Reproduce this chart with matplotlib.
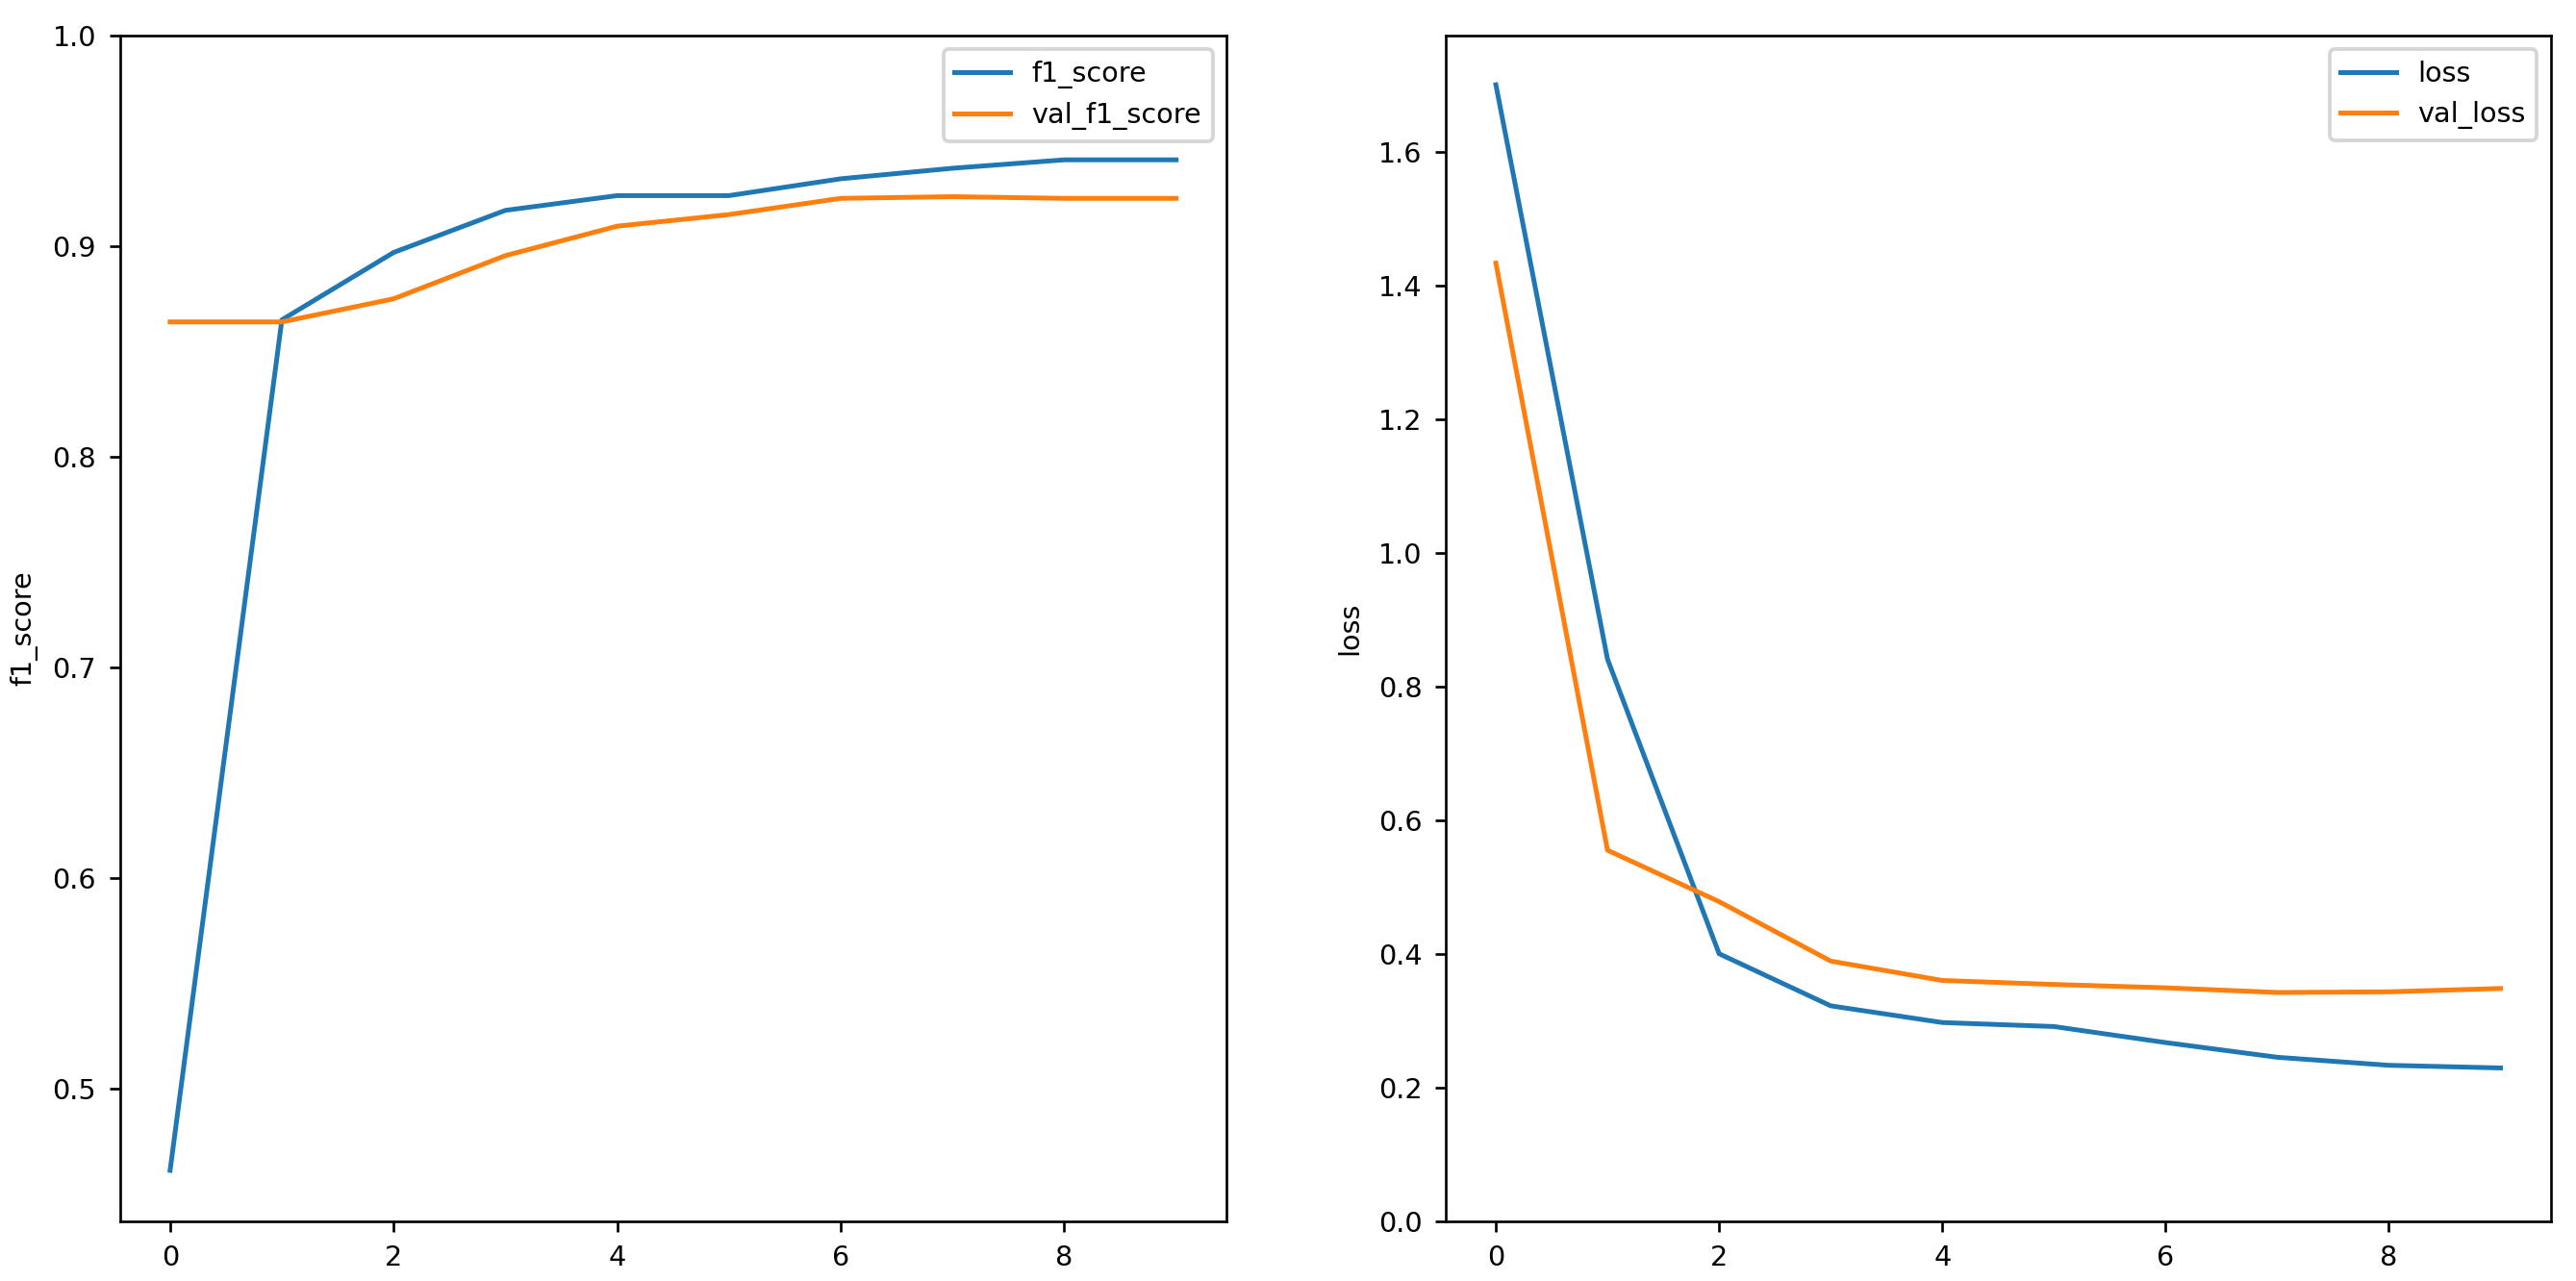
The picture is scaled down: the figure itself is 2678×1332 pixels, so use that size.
import matplotlib
matplotlib.use("Agg")
import matplotlib.pyplot as plt

# training history
epochs = list(range(10))
f1_score = [0.461, 0.865, 0.897, 0.917, 0.924, 0.924, 0.932, 0.937, 0.941, 0.941]
val_f1_score = [0.864, 0.864, 0.875, 0.8955, 0.9095, 0.915, 0.9227, 0.9235, 0.9227, 0.9227]
loss = [1.701, 0.841, 0.400, 0.322, 0.297, 0.291, 0.267, 0.245, 0.233, 0.229]
val_loss = [1.434, 0.555, 0.478, 0.389, 0.360, 0.354, 0.349, 0.342, 0.343, 0.348]

plt.rcParams["font.size"] = 7.5
plt.rcParams["lines.linewidth"] = 1.3
plt.rcParams["axes.linewidth"] = 0.7
plt.rcParams["xtick.major.size"] = 2.9
plt.rcParams["ytick.major.size"] = 2.9
plt.rcParams["xtick.major.width"] = 0.7
plt.rcParams["ytick.major.width"] = 0.7

dpi = 275
fig = plt.figure(figsize=(2678 / dpi, 1332 / dpi), dpi=dpi)

ax1 = fig.add_axes([0.0465, 0.0469, 0.4296, 0.9253])
ax1.plot(epochs, f1_score, label="f1_score")
ax1.plot(epochs, val_f1_score, label="val_f1_score")
ax1.set_ylim(top=1.0)
ax1.set_ylabel("f1_score")
ax1.legend(loc="upper right")

ax2 = fig.add_axes([0.5612, 0.0469, 0.4290, 0.9253])
ax2.plot(epochs, loss, label="loss")
ax2.plot(epochs, val_loss, label="val_loss")
ax2.set_ylim(bottom=0)
ax2.set_ylabel("loss")
ax2.legend(loc="upper right")

fig.savefig("out.png", dpi=dpi)
